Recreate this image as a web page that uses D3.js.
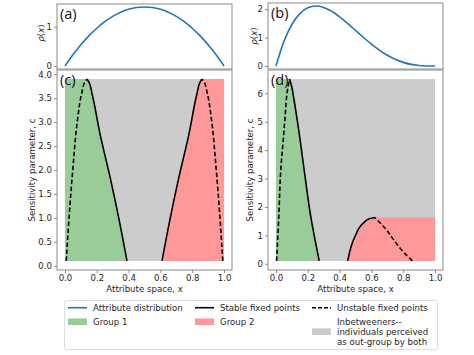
<!DOCTYPE html>
<html><head><meta charset="utf-8">
<script src="https://cdn.jsdelivr.net/npm/d3@7"></script>
<style>body{margin:0;background:#fff}svg{display:block;font-family:"DejaVu Sans",sans-serif}</style>
</head><body><svg id="c" width="474" height="355"></svg>
<script>
// ---- data ----
const xTicks = [0, 0.2, 0.4, 0.6, 0.8, 1.0];
const ticksA = [0, 1];
const ticksB = [0, 1, 2];
const ticksC = [0, 0.5, 1, 1.5, 2, 2.5, 3, 3.5, 4];
const ticksD = [0, 1, 2, 3, 4, 5, 6];
const densX = [0,0.05,0.1,0.15,0.2,0.25,0.3,0.35,0.4,0.45,0.5,0.55,0.6,0.65,0.7,0.75,0.8,0.85,0.9,0.95,1];
const densA = [0,0.285,0.54,0.765,0.96,1.125,1.26,1.365,1.44,1.485,1.5,1.485,1.44,1.365,1.26,1.125,0.96,0.765,0.54,0.285,0];
const densB = [0,0.857,1.458,1.842,2.048,2.109,2.058,1.922,1.728,1.497,1.25,1.002,0.768,0.557,0.378,0.234,0.128,0.057,0.018,0.002,0];
// fixed points [x, c]
const cLeftUnstable = [[0.008,0.1],[0.03,1.2],[0.05,2.04],[0.08,3.08],[0.105,3.6],[0.125,3.84],[0.14,3.9]];
const cLeftStable = [[0.39,0.1],[0.338,1.0],[0.285,1.83],[0.222,2.73],[0.17,3.6],[0.153,3.82],[0.14,3.9]];
const cRightStable = [[0.61,0.1],[0.662,1.0],[0.715,1.83],[0.778,2.73],[0.83,3.6],[0.847,3.82],[0.86,3.9]];
const cRightUnstable = [[0.992,0.1],[0.97,1.2],[0.95,2.04],[0.92,3.08],[0.895,3.6],[0.875,3.84],[0.86,3.9]];
const dLeftUnstable = [[0.004,0.1],[0.018,1.7],[0.031,3.37],[0.045,4.3],[0.057,5.13],[0.072,6.1],[0.085,6.5]];
const dLeftStable = [[0.272,0.1],[0.22,1.62],[0.184,3.02],[0.147,4.55],[0.115,5.72],[0.096,6.3],[0.085,6.5]];
const dRightStable = [[0.451,0.1],[0.497,0.96],[0.549,1.43],[0.59,1.59],[0.62,1.63]];
const dRightUnstable = [[0.858,0.1],[0.8,0.42],[0.748,0.78],[0.686,1.25],[0.62,1.63]];
const cMaxC = 3.9, cMaxD = 6.5, cMin = 0.1, dRedTop = 1.63;

const colGreen = "#99cc99", colRed = "#ff9999", colGray = "#cccccc", colBlue = "#1f77b4";
const frameCol = "#8a8a8a", textCol = "#262626", fs = 8.6;

const svg = d3.select("#c");

function frame(x, y) {
  const [x0, x1] = x.range(), [y0, y1] = y.range();
  svg.append("rect").attr("x", x0).attr("y", y1).attr("width", x1 - x0).attr("height", y0 - y1)
    .attr("fill", "none").attr("stroke", frameCol).attr("stroke-width", 1);
}
function yAxis(x, y, ticks, fmt) {
  const g = svg.append("g").attr("transform", `translate(${x.range()[0]},0)`)
    .call(d3.axisLeft(y).tickValues(ticks).tickFormat(fmt).tickSize(3).tickPadding(2));
  g.select(".domain").remove();
  g.selectAll("line").attr("stroke", frameCol);
  g.selectAll("text").attr("fill", textCol).style("font-size", fs + "px").style("font-family", "DejaVu Sans");
}
function xAxis(x, y, ticks) {
  const g = svg.append("g").attr("transform", `translate(0,${y.range()[0]})`)
    .call(d3.axisBottom(x).tickValues(ticks).tickFormat(d3.format(".1f")).tickSize(3).tickPadding(2));
  g.select(".domain").remove();
  g.selectAll("line").attr("stroke", frameCol);
  g.selectAll("text").attr("fill", textCol).style("font-size", fs + "px").style("font-family", "DejaVu Sans");
}
function label(x, y, t, size, rot, italic) {
  const tx = svg.append("text").attr("x", x).attr("y", y).attr("fill", textCol)
    .attr("text-anchor", "middle").attr("dominant-baseline", "central").style("font-size", size + "px");
  if (rot) tx.attr("transform", `rotate(-90,${x},${y})`);
  if (italic) {
    tx.append("tspan").attr("font-style", "italic").text("ρ");
    tx.append("tspan").text("(");
    tx.append("tspan").attr("font-style", "italic").text("x");
    tx.append("tspan").text(")");
  } else tx.text(t);
}
function panelLabel(x, y, t) {
  svg.append("text").attr("x", x).attr("y", y).attr("fill", "#111")
    .style("font-family", "'Open Sans', sans-serif").style("font-size", "14.5px").text(t);
}

function densityPanel(x, y, vals, ticks, lab, ylx, yly) {
  svg.append("path").datum(densX.map((d, i) => [d, vals[i]]))
    .attr("d", d3.line().x(d => x(d[0])).y(d => y(d[1])).curve(d3.curveCatmullRom))
    .attr("fill", "none").attr("stroke", colBlue).attr("stroke-width", 1.6);
  frame(x, y);
  yAxis(x, y, ticks, d3.format("d"));
  label(ylx, yly, "", fs, true, true);
  panelLabel(x.range()[0] + 3, y.range()[1] + 15, lab);
}

function sortC(a) { return a.slice().sort((p, q) => p[1] - q[1]); }

function fpPanel(x, y, cmax, greenB, redB, redTop, lines, ticks, fmt, lab, ylx) {
  svg.append("rect").attr("x", x(0)).attr("y", y(cmax)).attr("width", x(1) - x(0))
    .attr("height", y(cMin) - y(cmax)).attr("fill", colGray);
  const area = d3.area().curve(d3.curveMonotoneY).y(d => y(d[1]));
  svg.append("path").datum(sortC(greenB))
    .attr("d", area.x0(x(0)).x1(d => x(d[0]))).attr("fill", colGreen);
  svg.append("path").datum(sortC(redB))
    .attr("d", d3.area().curve(d3.curveMonotoneY).y(d => y(d[1])).x0(d => x(d[0])).x1(x(1)))
    .attr("fill", colRed);
  if (redTop !== null) {
    const pk = redB[redB.length - 1];
    svg.append("rect").attr("x", x(pk[0])).attr("y", y(redTop)).attr("width", x(1) - x(pk[0]))
      .attr("height", y(cMin) - y(redTop)).attr("fill", colRed);
  }
  const ln = d3.line().curve(d3.curveMonotoneY).x(d => x(d[0])).y(d => y(d[1]));
  lines.forEach(([pts, dashed]) => {
    svg.append("path").datum(sortC(pts)).attr("d", ln).attr("fill", "none")
      .attr("stroke", "#000").attr("stroke-width", 1.6)
      .attr("stroke-dasharray", dashed ? "4.5,2.5" : null);
  });
  frame(x, y);
  yAxis(x, y, ticks, fmt);
  xAxis(x, y, xTicks);
  label(ylx, (y.range()[0] + y.range()[1]) / 2, "Sensitivity parameter, c", fs, true, false);
  label((x(0) + x(1)) / 2, 288.5, "Attribute space, x", fs, false, false);
  panelLabel(x.range()[0] + 3, y.range()[1] + 15, lab);
}

// scales
const xL = d3.scaleLinear().domain([-0.05, 1.05]).range([57, 232]);
const xR = d3.scaleLinear().domain([-0.05, 1.05]).range([268, 443]);
const yA = d3.scaleLinear().domain([-0.075, 1.575]).range([69, 4]);
const yB = d3.scaleLinear().domain([-0.105, 2.214]).range([69, 3]);
const yC = d3.scaleLinear().domain([-0.09, 4.09]).range([270, 70]);
const yD = d3.scaleLinear().domain([-0.22, 6.82]).range([270, 70]);

fpPanel(xL, yC, cMaxC, cLeftStable, cRightStable, null,
  [[cLeftUnstable, true], [cLeftStable, false], [cRightStable, false], [cRightUnstable, true]],
  ticksC, d3.format(".1f"), "(c)", 32);
fpPanel(xR, yD, cMaxD, dLeftStable, dRightStable, dRedTop,
  [[dLeftUnstable, true], [dLeftStable, false], [dRightStable, false], [dRightUnstable, true]],
  ticksD, d3.format("d"), "(d)", 250);
densityPanel(xL, yA, densA, ticksA, "(a)", 41, 33);
densityPanel(xR, yB, densB, ticksB, "(b)", 253.5, 36);

// legend
const lg = svg.append("g");
lg.append("rect").attr("x", 64.5).attr("y", 300.5).attr("width", 373).attr("height", 49).attr("rx", 2)
  .attr("fill", "#fff").attr("stroke", "#dddddd");
const lgLines = [
  {x: 68, y: 307.7, color: colBlue, dash: null, text: "Attribute distribution"},
  {x: 195, y: 307.7, color: "#000", dash: null, text: "Stable fixed points"},
  {x: 312, y: 307.7, color: "#000", dash: "4,2", text: "Unstable fixed points"}
];
lgLines.forEach(d => {
  lg.append("line").attr("x1", d.x).attr("x2", d.x + 19).attr("y1", d.y).attr("y2", d.y)
    .attr("stroke", d.color).attr("stroke-width", 1.6).attr("stroke-dasharray", d.dash);
  lg.append("text").attr("x", d.x + 25).attr("y", d.y).attr("dominant-baseline", "central")
    .attr("fill", textCol).style("font-size", fs + "px").text(d.text);
});
const lgPatches = [
  {x: 68, y: 321.7, color: colGreen, lines: ["Group 1"]},
  {x: 195, y: 321.7, color: colRed, lines: ["Group 2"]},
  {x: 312, y: 331.7, color: colGray, lines: ["Inbetweeners--", "individuals perceived", "as out-group by both"]}
];
lgPatches.forEach(d => {
  lg.append("rect").attr("x", d.x).attr("y", d.y - 3.3).attr("width", 19).attr("height", 6.6).attr("fill", d.color);
  const n = d.lines.length;
  d.lines.forEach((t, i) => {
    lg.append("text").attr("x", d.x + 25).attr("y", d.y + (i - (n - 1) / 2) * 10).attr("dominant-baseline", "central")
      .attr("fill", textCol).style("font-size", fs + "px").text(t);
  });
});
</script></body></html>
